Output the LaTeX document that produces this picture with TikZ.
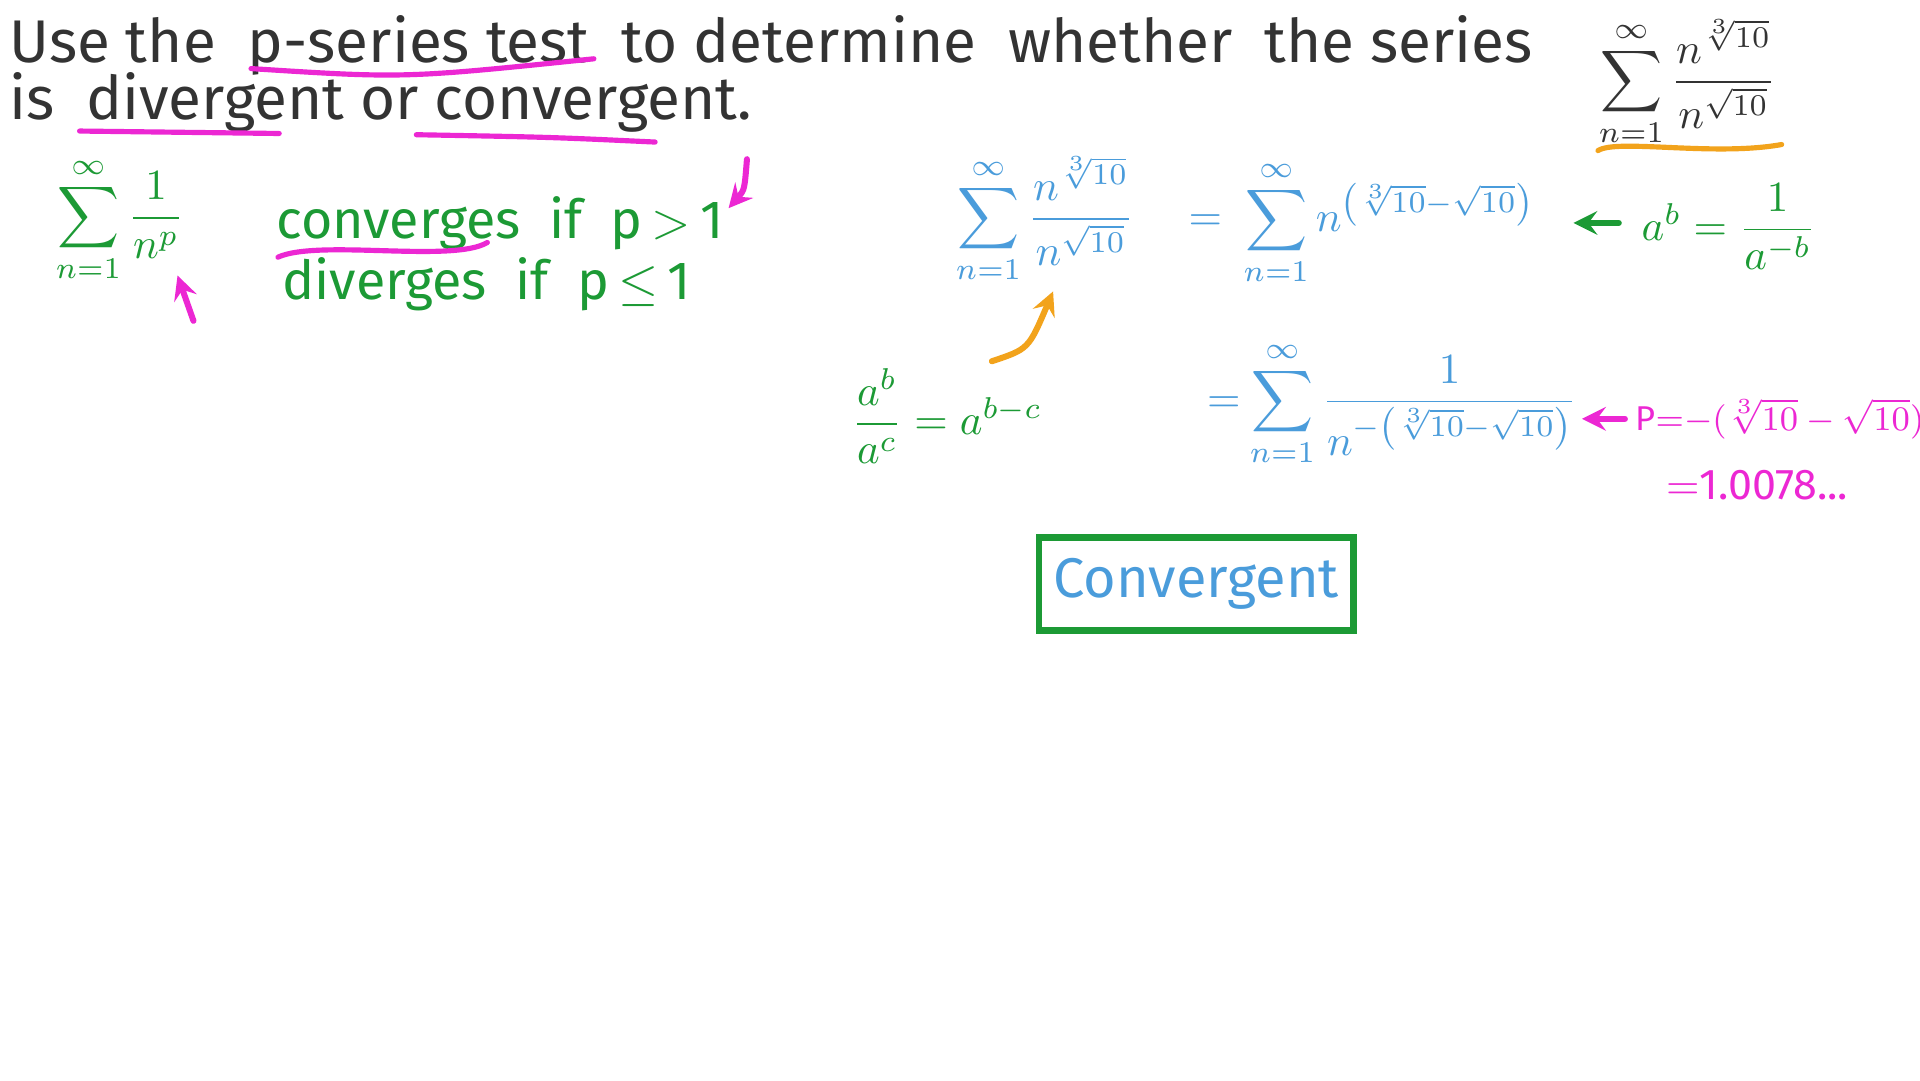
\documentclass[tikz,border=0pt]{standalone}
\usepackage{amsmath}
\usepackage{fontspec}
\setmainfont{Fira Sans}
\definecolor{ink}{HTML}{333333}
\definecolor{grn}{HTML}{1C9A35}
\definecolor{blu}{HTML}{4A9CDB}
\definecolor{mag}{HTML}{EC27D3}
\definecolor{org}{HTML}{F2A31C}
\begin{document}
\begin{tikzpicture}[x=1cm,y=-1cm,
  t/.style={inner sep=0pt,anchor=west},
  ul/.style={line width=1.2pt,line cap=round},
  arr/.style={line width=1.4pt,->,>=stealth,line cap=round}]
\useasboundingbox (0,0) rectangle (15.68,8.82);
\fill[white] (0,0) rectangle (15.68,8.82);
% title
\node[t,text=ink,font=\fontsize{14}{17}\selectfont] (l1) at (0.07,0.37) {Use the \ p-series test \ to determine \ whether \ the series};
\node[t,text=ink,font=\fontsize{14}{17}\selectfont] (l2) at (0.07,0.84) {is \ divergent or convergent.};
\node[t,text=ink,font=\fontsize{10}{12}\selectfont] (s0) at (13.05,0.68) {$\displaystyle\sum_{n=1}^{\infty}\frac{n^{\sqrt[3]{10}}}{n^{\sqrt{10}}}$};
\draw[ul,mag] (2.05,0.56) .. controls (3.3,0.64) .. (4.85,0.48);
\draw[ul,mag] (0.65,1.07) -- (2.28,1.09);
\draw[ul,mag] (3.4,1.1) .. controls (4.5,1.12) .. (5.35,1.16);
\draw[ul,org] (13.05,1.23) .. controls (13.2,1.13) and (14.0,1.28) .. (14.55,1.18);
% left block
\node[t,text=grn,font=\fontsize{10}{12}\selectfont] (ps) at (0.45,1.8) {$\displaystyle\sum_{n=1}^{\infty}\frac{1}{n^{p}}$};
\node[t,text=grn,font=\fontsize{12.5}{14}\selectfont] (c1) at (2.25,1.82) {converges \ if \ p\,$>$\,1};
\node[t,text=grn,font=\fontsize{12.5}{14}\selectfont] (c2) at (2.3,2.32) {diverges \ if \ p\,$\le$\,1};
\draw[ul,mag] (2.27,2.1) .. controls (2.6,1.95) and (3.7,2.15) .. (3.98,1.98);
\coordinate (a1s) at (6.1,1.3); \coordinate (a1e) at (5.95,1.7);
\draw[arr,mag] (a1s) .. controls (6.08,1.55) .. (a1e);
\coordinate (a2s) at (1.58,2.62); \coordinate (a2e) at (1.45,2.25);
\draw[arr,mag] (a2s) -- (a2e);
% right derivation
\node[t,text=blu,font=\fontsize{10}{12}\selectfont] (e1) at (7.8,1.8) {$\displaystyle\sum_{n=1}^{\infty}\frac{n^{\sqrt[3]{10}}}{n^{\sqrt{10}}}$};
\node[t,text=blu,font=\fontsize{10}{12}\selectfont] (eq1) at (9.7,1.82) {$=$};
\node[t,text=blu,font=\fontsize{10}{12}\selectfont] (e2) at (10.15,1.82) {$\displaystyle\sum_{n=1}^{\infty}n^{\left(\sqrt[3]{10}-\sqrt{10}\right)}$};
\node[t,text=grn,font=\fontsize{10}{12}\selectfont] (r1) at (13.4,1.85) {$a^{b}=\dfrac{1}{a^{-b}}$};
\draw[arr,grn] (13.22,1.82) -- (12.85,1.82);
\node[t,text=grn,font=\fontsize{10}{12}\selectfont] (r2) at (6.95,3.4) {$\dfrac{a^{b}}{a^{c}}=a^{b-c}$};
\draw[arr,org] (8.1,2.95) .. controls (8.4,2.85) .. (8.6,2.38);
\node[t,text=blu,font=\fontsize{10}{12}\selectfont] (eq2) at (9.85,3.3) {$=$};
\node[t,text=blu,font=\fontsize{10}{12}\selectfont] (e3) at (10.2,3.3) {$\displaystyle\sum_{n=1}^{\infty}\frac{1}{n^{-\left(\sqrt[3]{10}-\sqrt{10}\right)}}$};
\node[t,text=mag,font=\fontsize{8}{10}\selectfont] (p) at (13.35,3.42) {P$=$$-$$(\sqrt[3]{10}-\sqrt{10})$};
\draw[arr,mag] (13.27,3.42) -- (12.92,3.42);
\node[t,text=mag,font=\fontsize{10}{12}\selectfont] (pv) at (13.6,3.96) {$=$1.0078...};
\node[draw=grn,line width=1.5pt,text=blu,minimum width=2.35cm,minimum height=0.76cm,font=\fontsize{13}{15}\selectfont] (ans) at (9.77,4.77) {Convergent};
\end{tikzpicture}
\end{document}
